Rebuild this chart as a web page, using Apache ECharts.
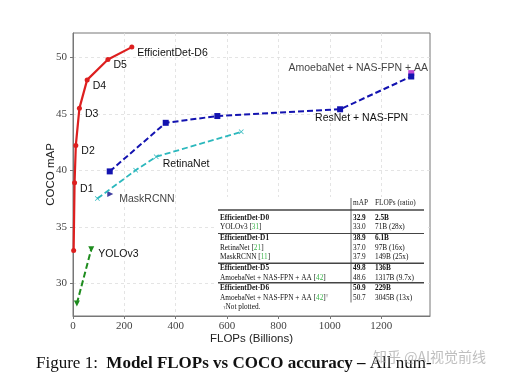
<!DOCTYPE html>
<html><head><meta charset="utf-8">
<script src="https://cdn.jsdelivr.net/npm/echarts@6/dist/echarts.min.js"></script>
<style>html,body{margin:0;padding:0;background:#fff;}#c{width:508px;height:378px;}</style>
</head><body><div id="c"></div>
<script>
// ---- data ----
const xTicks = [0, 200, 400, 600, 800, 1000, 1200];
const yTicks = [30, 35, 40, 45, 50];
const effFlops = [2.5, 6.1, 11, 25, 55, 136, 229];
const effMap = [32.9, 38.9, 42.2, 45.5, 48.0, 49.8, 50.9];
const effLabels = ['', 'D1', 'D2', 'D3', 'D4', 'D5', 'EfficientDet-D6'];
const yoloFlops = [15, 71];
const yoloMap = [28.2, 33.0];
const retinaFlops = [95, 244, 324, 655];
const retinaMap = [37.5, 40.0, 41.2, 43.4];
const maskFlops = [145];
const maskMap = [37.9];
const nasFlops = [143, 361, 562, 1040, 1317];
const nasMap = [39.9, 44.2, 44.8, 45.4, 48.3];
const amoebaFlops = [1317];
const amoebaMap = [48.6];

const tblNames = ['EfficientDet-D0', 'YOLOv3', 'EfficientDet-D1', 'RetinaNet', 'MaskRCNN', 'EfficientDet-D5', 'AmoebaNet + NAS-FPN + AA', 'EfficientDet-D6', 'AmoebaNet + NAS-FPN + AA'];
const tblRefs = ['', '31', '', '21', '11', '', '42', '', '42'];
const tblDagger = [0, 0, 0, 0, 0, 0, 0, 0, 1];
const tblMap = ['32.9', '33.0', '38.9', '37.0', '37.9', '49.8', '48.6', '50.9', '50.7'];
const tblFlops = ['2.5B', '71B (28x)', '6.1B', '97B (16x)', '149B (25x)', '136B', '1317B (9.7x)', '229B', '3045B (13x)'];
const tblBold = [1, 0, 1, 0, 0, 1, 0, 1, 0];
const tblHeader = ['mAP', 'FLOPs (ratio)'];
const tblNote = 'Not plotted.';

// ---- layout ----
const chart = echarts.init(document.getElementById('c'));
const sans = '"Liberation Sans", Arial, sans-serif';
const serif = '"Liberation Serif", "Times New Roman", serif';
const lblFont = 10.5;

const effData = effFlops.map((x, i) => ({
  value: [x, effMap[i]],
  label: effLabels[i] ? { show: true, formatter: effLabels[i], position: 'right', distance: 3, offset: [0, 6] } : { show: false }
}));

const xPath = 'path://M0,1L1,0L5,4L9,0L10,1L6,5L10,9L9,10L5,6L1,10L0,9L4,5Z';
const triDown = 'path://M0,0L10,0L5,9Z';

// table graphics
const tX = 219, tSep = 351, tMapX = 353, tFlX = 375, tRight = 424;
const rowYs = [217.7, 226.7, 238.3, 248.3, 257.3, 268.3, 277.7, 288.3, 297.7];
const tfs = 7.3;
const gfx = [];
gfx.push({ type: 'rect', z: 50, shape: { x: 217, y: 197, width: 211, height: 118 }, style: { fill: '#fff' } });
gfx.push({ type: 'text', z: 51, style: { text: tblHeader[0], x: tMapX, y: 203.5, font: tfs + 'px ' + serif, fill: '#222', verticalAlign: 'middle' } });
gfx.push({ type: 'text', z: 51, style: { text: tblHeader[1], x: tFlX, y: 203.5, font: tfs + 'px ' + serif, fill: '#222', verticalAlign: 'middle' } });
[[210, 1.3], [233.5, 1], [263.3, 1.6], [282.8, 1.6]].forEach(([y, w]) => {
  gfx.push({ type: 'line', z: 51, shape: { x1: 218, y1: y, x2: tRight, y2: y }, style: { stroke: '#444', lineWidth: w } });
});
gfx.push({ type: 'line', z: 51, shape: { x1: tSep, y1: 198, x2: tSep, y2: 302.5 }, style: { stroke: '#444', lineWidth: 0.8 } });
tblNames.forEach((n, i) => {
  const bold = tblBold[i] ? 'bold ' : '';
  let txt = '{n|' + n + '}';
  if (tblRefs[i]) txt += '{n| [}{g|' + tblRefs[i] + '}{n|]}';
  if (tblDagger[i]) txt += '{s|†}';
  gfx.push({ type: 'text', z: 51, style: { text: txt, x: tX + 1, y: rowYs[i], verticalAlign: 'middle',
    rich: { n: { font: bold + tfs + 'px ' + serif, fill: '#111' }, g: { font: tfs + 'px ' + serif, fill: '#3cb44b' }, s: { font: '5px ' + serif, fill: '#111', verticalAlign: 'top', padding: [0, 0, 4, 0] } } } });
  gfx.push({ type: 'text', z: 51, style: { text: tblMap[i], x: tMapX, y: rowYs[i], verticalAlign: 'middle', font: bold + tfs + 'px ' + serif, fill: '#111' } });
  gfx.push({ type: 'text', z: 51, style: { text: tblFlops[i], x: tFlX, y: rowYs[i], verticalAlign: 'middle', font: bold + tfs + 'px ' + serif, fill: '#111' } });
});
gfx.push({ type: 'text', z: 51, style: { text: '{s|†}{n|' + tblNote + '}', x: 223, y: 307.3, verticalAlign: 'middle',
  rich: { n: { font: tfs + 'px ' + serif, fill: '#111' }, s: { font: '5px ' + serif, fill: '#111' } } } });
// caption
gfx.push({ type: 'text', z: 51, style: { text: 'Figure 1:  {b|Model FLOPs vs COCO accuracy –} All num-', x: 36, y: 372.5, verticalAlign: 'bottom',
  font: '17px ' + serif, fill: '#111', rich: { b: { font: 'bold 17px ' + serif, fill: '#111' } } } });
gfx.push({ type: 'text', z: 51, style: { text: 'bers are for single-model single-scale. Our EfficientDet achieves', x: 36, y: 394, verticalAlign: 'bottom',
  font: '17px ' + serif, fill: '#111' } });
// watermark
gfx.push({ type: 'text', z: 60, style: { text: '知乎 @AI视觉前线', x: 373, y: 357, verticalAlign: 'middle',
  font: '14px "Noto Sans CJK SC", sans-serif', fill: 'rgba(170,170,170,0.75)' } });

const option = {
  backgroundColor: '#fff',
  animation: false,
  grid: { left: 73, right: 78, top: 33, bottom: 62, show: true, borderColor: '#777', borderWidth: 1, backgroundColor: 'transparent' },
  xAxis: {
    type: 'value', min: 0, max: 1390,
    name: 'FLOPs (Billions)', nameLocation: 'middle', nameGap: 17, nameMoveOverlap: false,
    nameTextStyle: { fontFamily: sans, fontSize: 11.5, color: '#222' },
    axisLine: { show: true, lineStyle: { color: '#777' } },
    axisTick: { show: true, length: 3, customValues: xTicks, lineStyle: { color: '#777' } },
    axisLabel: { customValues: xTicks, formatter: v => String(v), fontFamily: serif, fontSize: 11, color: '#444', margin: 5 },
    splitLine: { show: true, lineStyle: { color: '#ddd', type: [3, 3], width: 0.8 } }
  },
  yAxis: {
    type: 'value', min: 27.1, max: 52.15,
    name: 'COCO mAP', nameLocation: 'middle', nameGap: 16, nameRotate: 90, nameMoveOverlap: false,
    nameTextStyle: { fontFamily: sans, fontSize: 11.5, color: '#222' },
    axisLine: { show: true, lineStyle: { color: '#777' } },
    axisTick: { show: true, length: 3, customValues: yTicks, lineStyle: { color: '#777' } },
    axisLabel: { customValues: yTicks, formatter: v => String(v), fontFamily: serif, fontSize: 11, color: '#444', margin: 6 },
    splitLine: { show: true, lineStyle: { color: '#ddd', type: [3, 3], width: 0.8 } }
  },
  series: [
    { type: 'line', name: 'YOLOv3', data: [{ value: [yoloFlops[0], yoloMap[0]] }, { value: [yoloFlops[1], yoloMap[1]], label: { show: true, formatter: 'YOLOv3', position: 'right', distance: 4, offset: [0, 5] } }],
      symbol: triDown, symbolSize: [6, 6], itemStyle: { color: '#1e8c1e' }, lineStyle: { color: '#1e8c1e', width: 2, type: [6, 3] },
      label: { fontFamily: sans, fontSize: lblFont, color: '#111' } },
    { type: 'line', name: 'RetinaNet', data: retinaFlops.map((x, i) => ({ value: [x, retinaMap[i]], label: i === 2 ? { show: true, formatter: 'RetinaNet', position: 'right', distance: 4, offset: [0, 7] } : { show: false } })),
      symbol: xPath, symbolSize: 5, itemStyle: { color: '#2cb8bd' }, lineStyle: { color: '#2cb8bd', width: 1.8, type: [6, 3] },
      label: { fontFamily: sans, fontSize: lblFont, color: '#111' } },
    { type: 'line', name: 'NAS-FPN', data: nasFlops.map((x, i) => ({ value: [x, nasMap[i]], label: i === 3 ? { show: true, formatter: 'ResNet + NAS-FPN', position: 'right', distance: 0, offset: [-28, 9] } : { show: false } })),
      symbol: 'rect', symbolSize: 6, itemStyle: { color: '#1313b0' }, lineStyle: { color: '#1313b0', width: 2, type: [6, 3] },
      label: { fontFamily: sans, fontSize: lblFont, color: '#111' } },
    { type: 'scatter', name: 'MaskRCNN', data: [{ value: [maskFlops[0], maskMap[0]], label: { show: true, formatter: 'MaskRCNN', position: 'right', distance: 6, offset: [0, 5] } }],
      symbol: 'triangle', symbolRotate: -90, symbolSize: 6, itemStyle: { color: '#10108a' },
      label: { fontFamily: sans, fontSize: lblFont, color: '#111' } },
    { type: 'scatter', name: 'AmoebaNet', data: [{ value: [amoebaFlops[0], amoebaMap[0]], label: { show: true, formatter: 'AmoebaNet + NAS-FPN + AA', position: 'top', distance: 0, offset: [-53, 4] } }],
      symbol: 'rect', symbolSize: 6, itemStyle: { color: '#b01cc8' },
      label: { fontFamily: sans, fontSize: lblFont, color: '#111' } },
    { type: 'line', name: 'EfficientDet', data: effData,
      symbol: 'circle', symbolSize: 5, itemStyle: { color: '#dd1f1f' }, lineStyle: { color: '#dd1f1f', width: 2.2 },
      label: { fontFamily: sans, fontSize: lblFont, color: '#111' } }
  ],
  graphic: gfx
};
chart.setOption(option);
</script></body></html>
